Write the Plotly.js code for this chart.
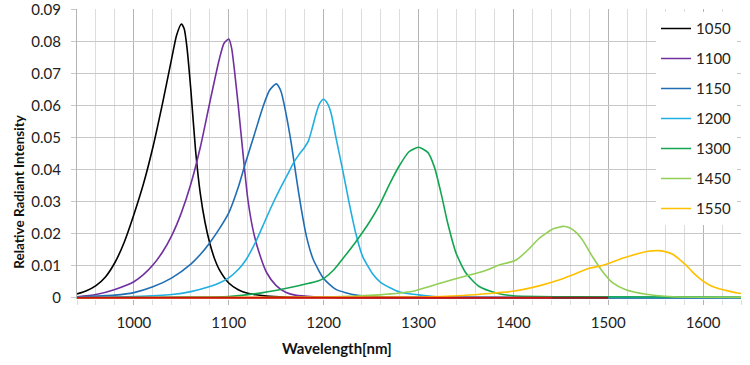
<!DOCTYPE html>
<html>
<head>
<meta charset="utf-8">
<script src="https://cdn.plot.ly/plotly-3.0.1.min.js"></script>
<style>html,body{margin:0;padding:0;background:#fff;}#chart{width:750px;height:365px;}</style>
</head>
<body>
<div id="chart"></div>
<script>
// ---- data ----
const seriesNames = ["1050", "1100", "1150", "1200", "1300", "1450", "1550"];

const wl1050 = [940, 950, 960, 970, 980, 990, 1000, 1010, 1020, 1030, 1040, 1045, 1050, 1053, 1056, 1060, 1065, 1070, 1075, 1080, 1085, 1090, 1100, 1110, 1120, 1140, 1160, 1200, 1300, 1640];
const int1050 = [0.0012, 0.0022, 0.0038, 0.0065, 0.011, 0.0175, 0.026, 0.0355, 0.047, 0.0605, 0.075, 0.082, 0.0855, 0.084, 0.078, 0.065, 0.046, 0.0325, 0.0235, 0.017, 0.0122, 0.0088, 0.0046, 0.0025, 0.0014, 0.0005, 0.0002, 0.0001, 0, 0];

const wl1100 = [940, 960, 980, 1000, 1010, 1020, 1030, 1040, 1050, 1060, 1070, 1080, 1090, 1095, 1100, 1103, 1106, 1110, 1115, 1120, 1125, 1130, 1140, 1150, 1160, 1170, 1190, 1220, 1640];
const int1100 = [0.0003, 0.001, 0.0026, 0.005, 0.0072, 0.0102, 0.0142, 0.0195, 0.0265, 0.0355, 0.047, 0.061, 0.0745, 0.0795, 0.0808, 0.078, 0.071, 0.06, 0.045, 0.031, 0.022, 0.016, 0.0078, 0.0038, 0.0017, 0.0008, 0.0003, 0.0001, 0];

const wl1150 = [940, 980, 1000, 1020, 1040, 1060, 1070, 1080, 1090, 1100, 1110, 1118, 1127, 1136, 1143, 1150, 1155, 1160, 1166, 1171, 1176, 1182, 1189, 1200, 1213, 1234, 1260, 1300, 1640];
const int1150 = [0.0002, 0.0008, 0.0016, 0.0034, 0.0062, 0.0105, 0.0135, 0.0172, 0.0215, 0.0265, 0.0345, 0.0425, 0.051, 0.0596, 0.0648, 0.0668, 0.0645, 0.058, 0.048, 0.038, 0.0285, 0.019, 0.012, 0.006, 0.0026, 0.0008, 0.0002, 0.0001, 0];

const wl1200 = [940, 1000, 1040, 1060, 1080, 1090, 1100, 1110, 1118, 1128, 1136, 1145, 1154, 1162, 1168, 1174, 1180, 1184, 1188, 1192, 1196, 1200, 1204, 1208, 1213, 1220, 1227, 1234, 1241, 1252, 1260, 1270, 1280, 1300, 1320, 1360, 1640];
const int1200 = [0.0001, 0.0004, 0.001, 0.0019, 0.0035, 0.0046, 0.0062, 0.0088, 0.0118, 0.0172, 0.0225, 0.0285, 0.034, 0.0385, 0.042, 0.0447, 0.047, 0.049, 0.053, 0.0575, 0.0608, 0.062, 0.0607, 0.0575, 0.05, 0.04, 0.0295, 0.02, 0.013, 0.0073, 0.0048, 0.0031, 0.0018, 0.0009, 0.0003, 0.0001, 0];

const wl1300 = [940, 1000, 1050, 1100, 1136, 1171, 1194, 1201, 1210, 1217, 1225, 1234, 1248, 1259, 1269.5, 1280, 1290, 1300, 1309.8, 1316.8, 1323.9, 1330.9, 1339.7, 1350, 1364, 1382, 1400, 1450, 1640];
const int1300 = [0, 0.0001, 0.0002, 0.0004, 0.0016, 0.0036, 0.0052, 0.0062, 0.0085, 0.011, 0.014, 0.0175, 0.0235, 0.029, 0.0355, 0.0413, 0.0456, 0.047, 0.0454, 0.0408, 0.0325, 0.0232, 0.0139, 0.0077, 0.0035, 0.0015, 0.0006, 0.0003, 0.0002];

const wl1450 = [940, 1150, 1200, 1259, 1294, 1329, 1350, 1364, 1375, 1385, 1403, 1417, 1427, 1434, 1441, 1448, 1452, 1456, 1461, 1467, 1473, 1483.5, 1494, 1504.5, 1518.6, 1540, 1568, 1640];
const int1450 = [0, 0, 0.0002, 0.0009, 0.002, 0.0051, 0.0068, 0.0079, 0.009, 0.0102, 0.0118, 0.0154, 0.0185, 0.02, 0.0214, 0.022, 0.0223, 0.0222, 0.0216, 0.0202, 0.018, 0.0128, 0.0082, 0.0047, 0.0025, 0.0011, 0.0003, 0.0001];

const wl1550 = [940, 1300, 1347, 1375, 1399, 1427, 1448, 1462, 1480, 1490, 1501, 1515, 1533, 1542, 1552, 1560, 1568, 1575, 1582, 1589, 1596, 1603, 1610, 1617, 1624, 1636, 1640];
const int1550 = [0, 0.0002, 0.0007, 0.0013, 0.002, 0.0037, 0.0055, 0.0071, 0.0092, 0.0098, 0.0108, 0.0123, 0.0139, 0.0145, 0.0147, 0.0144, 0.0136, 0.012, 0.0102, 0.008, 0.0061, 0.0046, 0.0035, 0.0028, 0.0023, 0.0015, 0.0013];

// near-zero baseline series (not in legend)
const wlBaseRed = [940, 1440];
const intBaseRed = [0, 0];
const wlBaseDark = [1440, 1500];
const intBaseDark = [0, 0];

const xTitle = "Wavelength[nm]";
const yTitle = "Relative Radiant Intensity";

// ---- styling ----
const colors = ["#000000", "#7030A0", "#1F6DB5", "#21AEE0", "#14A550", "#92CF56", "#FFC000"];
const xs = [wl1050, wl1100, wl1150, wl1200, wl1300, wl1450, wl1550];
const ys = [int1050, int1100, int1150, int1200, int1300, int1450, int1550];

const traces = seriesNames.map((n, i) => ({
  type: "scatter", mode: "lines", name: n, legendgroup: n,
  x: xs[i], y: ys[i],
  line: {color: colors[i], width: 1.6, shape: "spline", smoothing: 0.6}
}));
traces.push({type: "scatter", mode: "lines", x: wlBaseRed, y: intBaseRed, showlegend: false, hoverinfo: "skip",
  line: {color: "#D21010", width: 2}});
traces.push({type: "scatter", mode: "lines", x: wlBaseDark, y: intBaseDark, showlegend: false, hoverinfo: "skip",
  line: {color: "#9A1818", width: 2}});

const fontFam = "Lato, 'Open Sans', sans-serif";
const layout = {
  width: 750, height: 365,
  margin: {l: 77, r: 9, t: 9, b: 66},
  paper_bgcolor: "#ffffff", plot_bgcolor: "#ffffff",
  font: {family: fontFam, size: 15, color: "#222"},
  showlegend: true,
  legend: {x: 0.872, y: 0.989, xanchor: "left", yanchor: "top", bgcolor: "#ffffff",
    borderwidth: 0, traceorder: "grouped", tracegroupgap: 7.5,
    font: {family: fontFam, size: 15, color: "#222"}},
  xaxis: {range: [940, 1640], dtick: 100, tick0: 1000, showgrid: true, gridcolor: "#b4b4b4", gridwidth: 1,
    zeroline: false, showline: false, ticks: "outside", ticklen: 5, tickcolor: "#b4b4b4",
    ticklabelstandoff: 5, ticklabeloverflow: "allow",
    tickfont: {family: fontFam, size: 15, color: "#222"},
    minor: {dtick: 20, tick0: 1000, showgrid: true, gridcolor: "#dcdcdc", ticks: "outside", ticklen: 5, tickcolor: "#dcdcdc"}},
  yaxis: {range: [-0.0004, 0.0902], dtick: 0.01, tick0: 0, showgrid: true, gridcolor: "#c8c8c8", gridwidth: 1,
    zeroline: true, zerolinecolor: "#b4b4b4", showline: true, linecolor: "#b4b4b4", linewidth: 1,
    ticks: "outside", ticklen: 5, tickcolor: "#c8c8c8", ticklabelstandoff: 7, ticklabeloverflow: "allow",
    tickfont: {family: fontFam, size: 15, color: "#222"}},
  annotations: [
    {text: "<b>" + xTitle + "</b>", xref: "paper", yref: "paper", x: 0.392, y: -0.17,
      xanchor: "center", yanchor: "middle", showarrow: false, font: {family: fontFam, size: 15, color: "#111"}},
    {text: "<b>" + yTitle + "</b>", xref: "paper", yref: "paper", x: -0.0873, y: 0.37,
      xanchor: "center", yanchor: "middle", textangle: -90, showarrow: false, font: {family: fontFam, size: 13.5, color: "#111"}}
  ]
};

Plotly.newPlot("chart", traces, layout, {displayModeBar: false, staticPlot: true});
</script>
</body>
</html>
